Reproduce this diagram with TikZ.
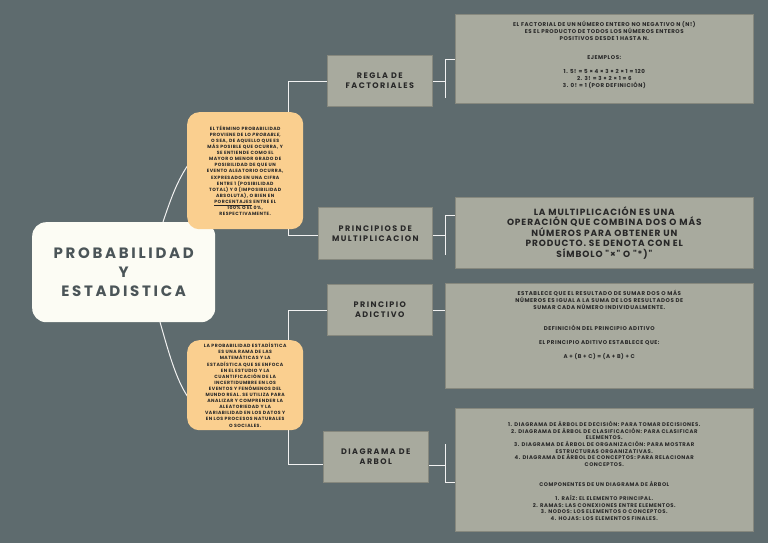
\documentclass[tikz,border=0pt]{standalone}
\usepackage{fontspec}
\setmainfont{Poppins}[BoldFont=* Bold]
\newfontfamily\popw[LetterSpace=18]{Poppins}[BoldFont=* Bold]
\newfontfamily\popm[LetterSpace=10]{Poppins}[BoldFont=* Bold]
\definecolor{bg}{RGB}{94,107,110}
\definecolor{lab}{RGB}{168,170,158}
\definecolor{yel}{RGB}{250,207,143}
\definecolor{cream}{RGB}{252,252,244}
\definecolor{ink}{RGB}{40,40,40}
\definecolor{mainink}{RGB}{75,85,88}
\tikzset{
 box/.style={fill=lab,draw=lab!80!black,line width=0.6pt,inner sep=0pt,anchor=north west},
 ybox/.style={fill=yel,rounded corners=12pt,inner sep=0pt,anchor=north west},
 con/.style={draw=white!90!gray,line width=1pt},
 txt/.style={align=center,text=ink,font=\bfseries},
}
\begin{document}
\begin{tikzpicture}[x=1pt,y=-1pt]
\fill[bg] (0,0) rectangle (768,543);
\useasboundingbox (0,0) rectangle (768,543);
% connectors
\coordinate (j1) at (288,81); \coordinate (j2) at (288,235);
\coordinate (j3) at (288,310); \coordinate (j4) at (288,464);
\draw[con] (327,81) -- (j1) -- (j2) -- (318,235);
\draw[con] (327,310) -- (j3) -- (j4) -- (323,464);
\draw[con] (163,222) .. controls (172,195) and (178,180) .. (188,165);
\draw[con] (160,322) .. controls (168,350) and (176,380) .. (188,397);
\draw[con] (432,81) -- (445,81); \draw[con] (455,60) -- (445,60) -- (445,98);
\draw[con] (432,235) -- (445,235); \draw[con] (455,215) -- (445,215) -- (445,255);
\draw[con] (432,310) -- (445,310);
\draw[con] (428,465) -- (445,465); \draw[con] (445,444) -- (445,482) -- (455,482);
% main
\node[fill=cream,rounded corners=14pt,minimum width=183pt,minimum height=100pt,anchor=north west] (main) at (32,222) {};
\node[align=center,text=mainink,font=\popw\bfseries\fontsize{15}{19}\selectfont] at (main.center) {PROBABILIDAD\\Y\\ESTADISTICA};
% yellow boxes
\node[ybox,minimum width=116pt,minimum height=117pt] (y1) at (187,112) {};
\node[txt,font=\popm\bfseries\fontsize{4.6}{6.1}\selectfont] at (y1.center) {EL TÉRMINO PROBABILIDAD\\PROVIENE DE LO \textit{PROBABLE},\\O SEA, DE AQUELLO QUE ES\\MÁS POSIBLE QUE OCURRA, Y\\SE ENTIENDE COMO EL\\MAYOR O MENOR GRADO DE\\POSIBILIDAD DE QUE UN\\EVENTO ALEATORIO OCURRA,\\EXPRESADO EN UNA CIFRA\\ENTRE 1 (POSIBILIDAD\\TOTAL) Y 0 (IMPOSIBILIDAD\\ABSOLUTA), O BIEN EN\\\underline{PORCENTAJES} ENTRE EL\\100\% O EL 0\%,\\RESPECTIVAMENTE.};
\node[ybox,minimum width=116pt,minimum height=90pt] (y2) at (187,340) {};
\node[txt,font=\popm\bfseries\fontsize{4.6}{6.1}\selectfont] at (y2.center) {LA PROBABILIDAD ESTADÍSTICA\\ES UNA RAMA DE LAS\\MATEMÁTICAS Y LA\\ESTADÍSTICA QUE SE ENFOCA\\EN EL ESTUDIO Y LA\\CUANTIFICACIÓN DE LA\\INCERTIDUMBRE EN LOS\\EVENTOS Y FENÓMENOS DEL\\MUNDO REAL. SE UTILIZA PARA\\ANALIZAR Y COMPRENDER LA\\ALEATORIEDAD Y LA\\VARIABILIDAD EN LOS DATOS Y\\EN LOS PROCESOS NATURALES\\O SOCIALES.};
% label boxes
\node[box,minimum width=105pt,minimum height=51pt] (l1) at (327,55) {};
\node[txt,font=\popw\bfseries\fontsize{8}{10}\selectfont] at (l1.center) {REGLA DE\\FACTORIALES};
\node[box,minimum width=114pt,minimum height=52pt] (l2) at (318,207) {};
\node[txt,font=\popw\bfseries\fontsize{8}{10}\selectfont] at (l2.center) {PRINCIPIOS DE\\MULTIPLICACION};
\node[box,minimum width=105pt,minimum height=51pt] (l3) at (327,284) {};
\node[txt,font=\popw\bfseries\fontsize{8}{10}\selectfont] at (l3.center) {PRINCIPIO\\ADICTIVO};
\node[box,minimum width=105pt,minimum height=51pt] (l4) at (323,431) {};
\node[txt,font=\popw\bfseries\fontsize{8}{10}\selectfont] at (l4.center) {DIAGRAMA DE\\ARBOL};
% big boxes
\node[box,minimum width=298pt,minimum height=89pt] (b1) at (455,14) {};
\node[txt,font=\popm\bfseries\fontsize{5.5}{7}\selectfont,anchor=north] at ([yshift=-4pt]b1.north) {EL FACTORIAL DE UN NÚMERO ENTERO NO NEGATIVO N (N!)\\ES EL PRODUCTO DE TODOS LOS NÚMEROS ENTEROS\\POSITIVOS DESDE 1 HASTA N.\\[12pt]EJEMPLOS:\\[7pt]1. 5! = 5 × 4 × 3 × 2 × 1 = 120\\2. 3! = 3 × 2 × 1 = 6\\3. 0! = 1 (POR DEFINICIÓN)};
\node[box,minimum width=298pt,minimum height=71pt] (b2) at (455,197) {};
\node[txt,font=\popm\bfseries\fontsize{9}{10.5}\selectfont] at (b2.center) {LA MULTIPLICACIÓN ES UNA\\OPERACIÓN QUE COMBINA DOS O MÁS\\NÚMEROS PARA OBTENER UN\\PRODUCTO. SE DENOTA CON EL\\SÍMBOLO "×" O "*)"};
\node[box,minimum width=308pt,minimum height=105pt] (b3) at (445,283) {};
\node[txt,font=\popm\bfseries\fontsize{5.5}{7}\selectfont,anchor=north] at ([yshift=-4pt]b3.north) {ESTABLECE QUE EL RESULTADO DE SUMAR DOS O MÁS\\NÚMEROS ES IGUAL A LA SUMA DE LOS RESULTADOS DE\\SUMAR CADA NÚMERO INDIVIDUALMENTE.\\[14pt]DEFINICIÓN DEL PRINCIPIO ADITIVO\\[7pt]EL PRINCIPIO ADITIVO ESTABLECE QUE:\\[7pt]A + (B + C) = (A + B) + C};
\node[box,minimum width=298pt,minimum height=123pt] (b4) at (455,408) {};
\node[txt,font=\popm\bfseries\fontsize{5.3}{6.6}\selectfont,anchor=north] at ([yshift=-10pt]b4.north) {1. DIAGRAMA DE ÁRBOL DE DECISIÓN: PARA TOMAR DECISIONES.\\2. DIAGRAMA DE ÁRBOL DE CLASIFICACIÓN: PARA CLASIFICAR\\ELEMENTOS.\\3. DIAGRAMA DE ÁRBOL DE ORGANIZACIÓN: PARA MOSTRAR\\ESTRUCTURAS ORGANIZATIVAS.\\4. DIAGRAMA DE ÁRBOL DE CONCEPTOS: PARA RELACIONAR\\CONCEPTOS.\\[14pt]COMPONENTES DE UN DIAGRAMA DE ÁRBOL\\[7pt]1. RAÍZ: EL ELEMENTO PRINCIPAL.\\2. RAMAS: LAS CONEXIONES ENTRE ELEMENTOS.\\3. NODOS: LOS ELEMENTOS O CONCEPTOS.\\4. HOJAS: LOS ELEMENTOS FINALES.};
\end{tikzpicture}
\end{document}
